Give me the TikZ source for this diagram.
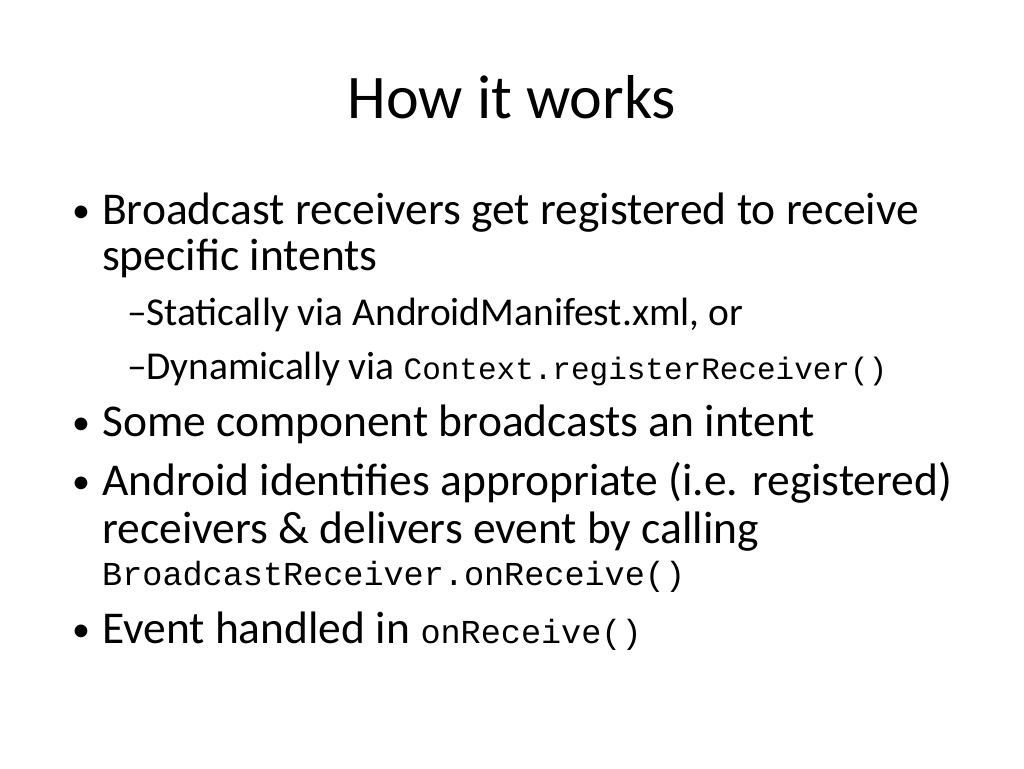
\documentclass[tikz,border=0pt]{standalone}
\usepackage{fontspec}
\setmainfont{Carlito}
\newfontfamily\cour{Liberation Mono}
\begin{document}
\begin{tikzpicture}[x=1pt,y=-1pt,
  ln/.style={anchor=base west,inner sep=0pt,font=\fontsize{45.5}{45.5}\selectfont},
  sl/.style={anchor=base west,inner sep=0pt,font=\fontsize{39.5}{39.5}\selectfont},
  bul/.style={anchor=base,inner sep=0pt,font=\fontsize{36}{36}\selectfont}]
\useasboundingbox (0,0) rectangle (1024,768);
\node[anchor=base,inner sep=0pt,font=\fontsize{62}{62}\selectfont] (title) at (512,118) {How it works};
\node[bul] (b1) at (81,222) {•};
\node[ln] (l1) at (102,224) {Broadcast receivers get registered to receive};
\node[ln] (l2) at (102,270) {specific intents};
\node[sl] (d1) at (127,325) {–};
\node[sl] (s1) at (146,325) {Statically via AndroidManifest.xml, or};
\node[sl] (d2) at (127,379) {–};
\node[sl] (s2) at (146,379) {Dynamically via {\cour\fontsize{31}{31}\selectfont Context.registerReceiver()}};
\node[bul] (b2) at (81,434) {•};
\node[ln] (l3) at (102,436) {Some component broadcasts an intent};
\node[bul] (b3) at (81,493) {•};
\node[ln] (l4) at (102,495) {Android identifies appropriate (i.e. registered)};
\node[ln] (l5) at (102,543) {receivers \& delivers event by calling};
\node[ln] (l6) at (102,585) {\cour\fontsize{33.5}{33.5}\selectfont BroadcastReceiver.onReceive()};
\node[bul] (b4) at (81,641) {•};
\node[ln] (l7) at (102,643) {Event handled in {\cour\fontsize{33.5}{33.5}\selectfont onReceive()}};
\end{tikzpicture}
\end{document}
